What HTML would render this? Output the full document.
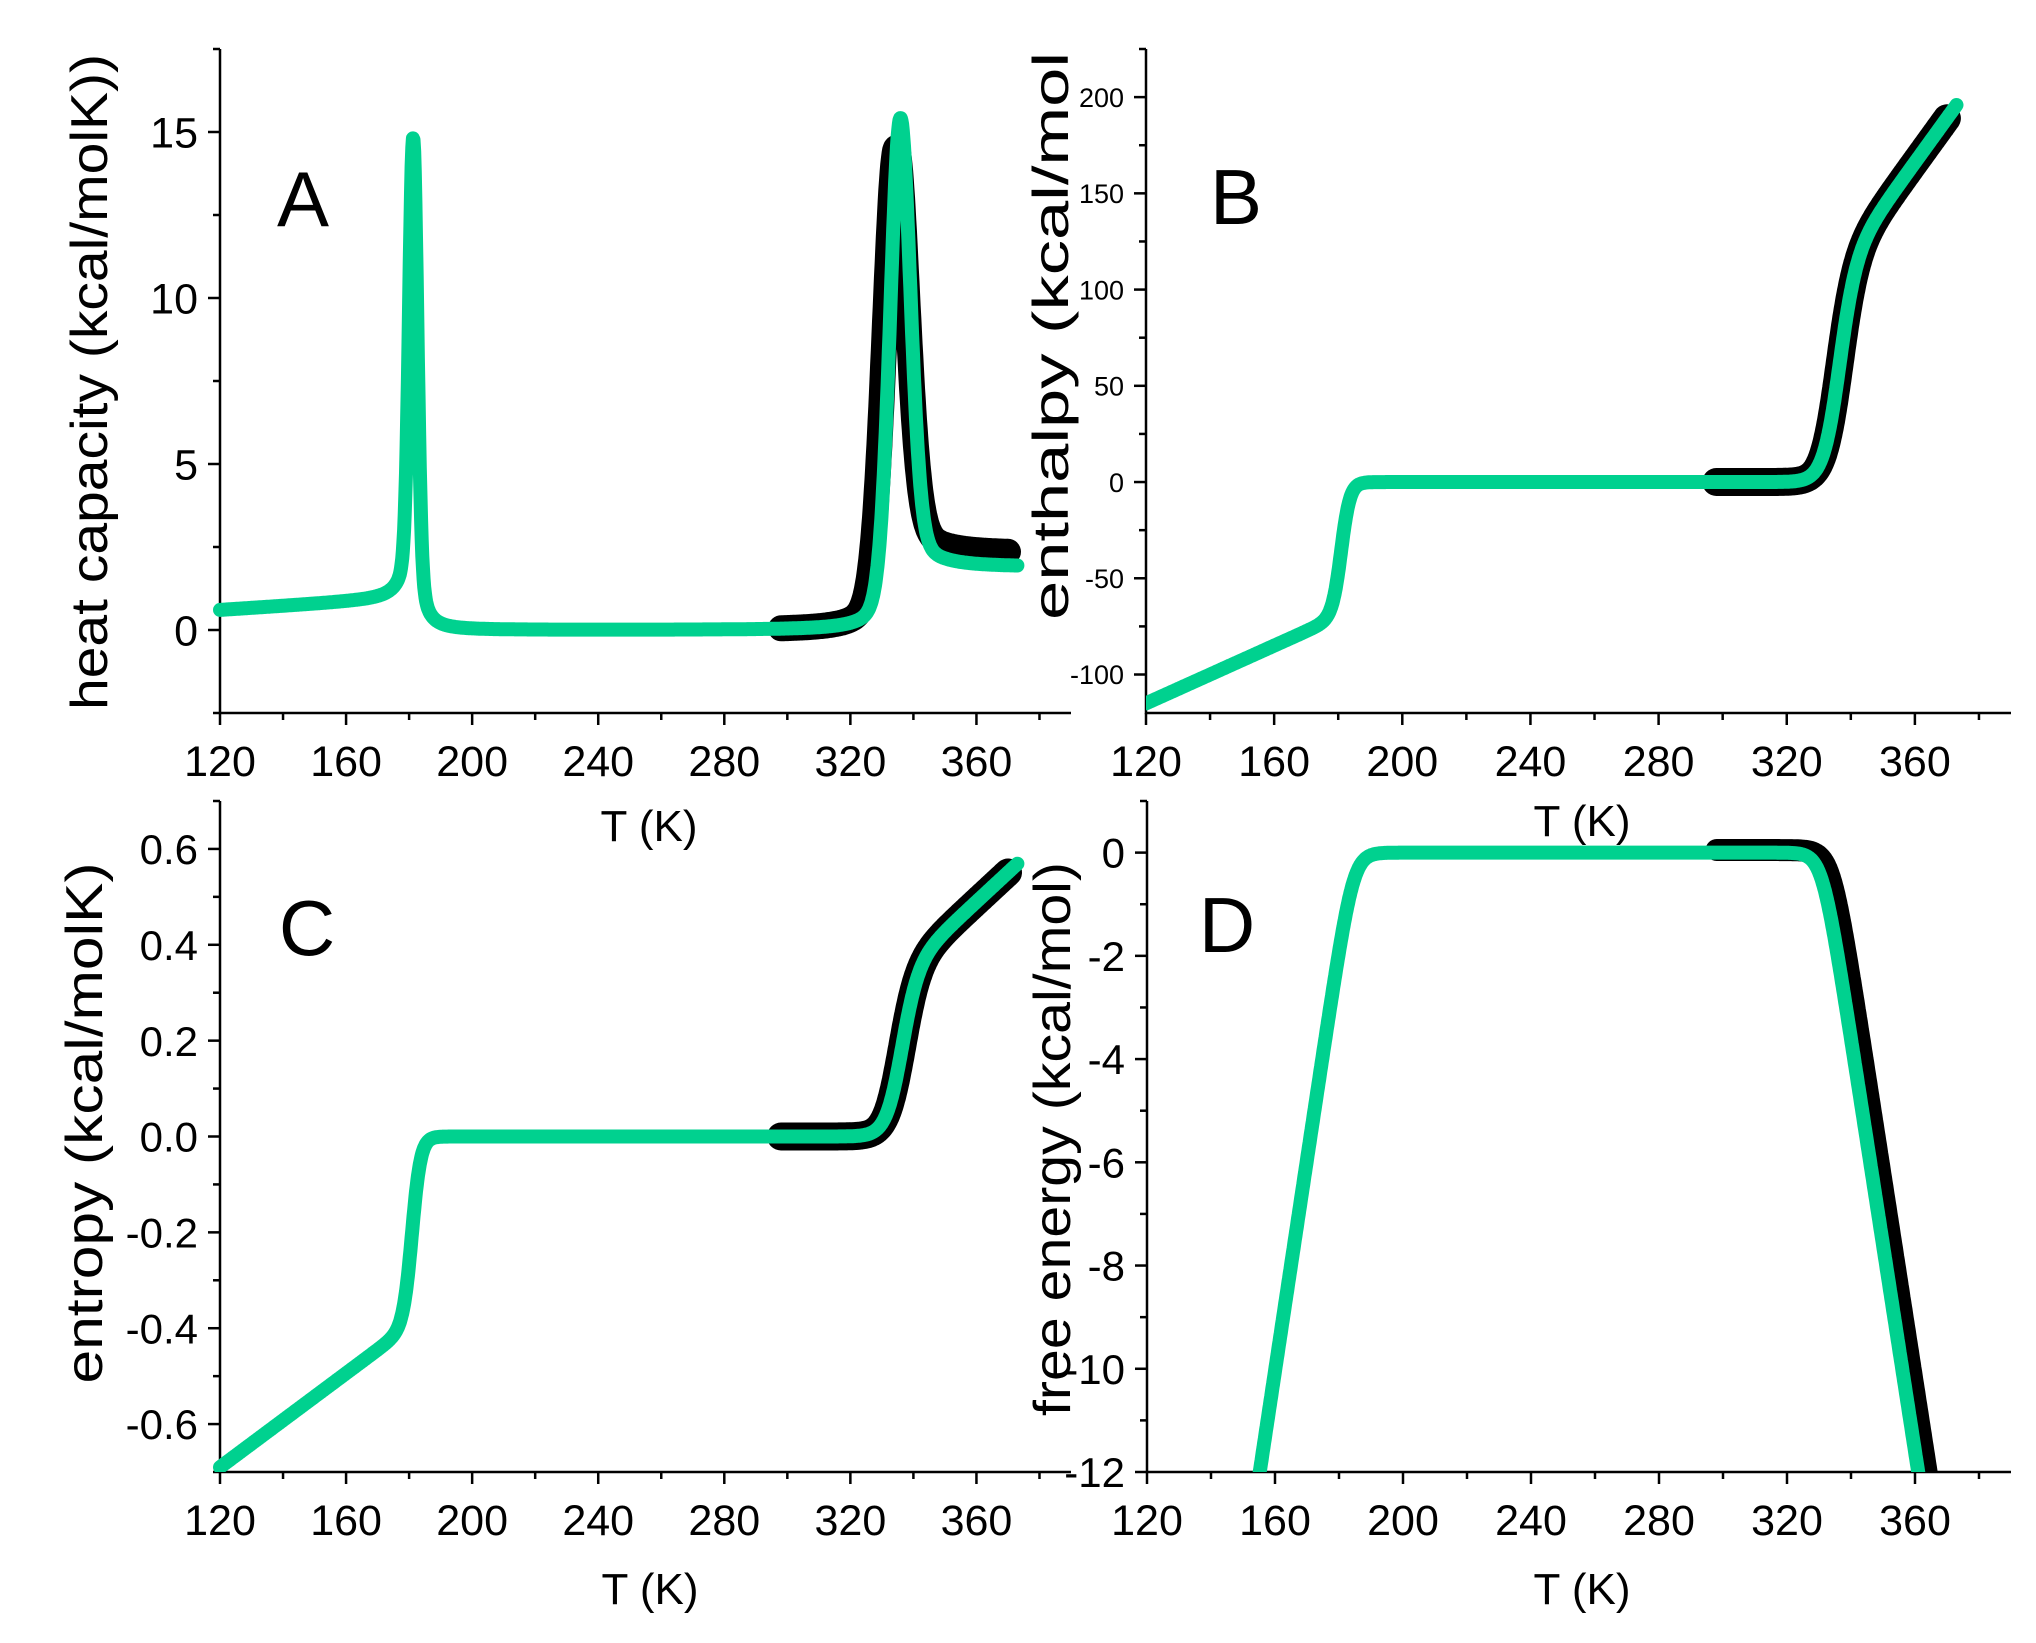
<!DOCTYPE html>
<html><head><meta charset="utf-8">
<style>
html,body{margin:0;padding:0;background:#fff;}
svg{display:block;font-family:"Liberation Sans",Arial,sans-serif;}
</style></head>
<body>
<svg id="s" width="2036" height="1643" viewBox="0 0 2036 1643" xmlns="http://www.w3.org/2000/svg">
<rect width="2036" height="1643" fill="#fff"/>
<defs>
<clipPath id="c0"><rect x="200" y="0" width="900" height="713"/></clipPath>
<clipPath id="c1"><rect x="1146" y="0" width="890" height="713"/></clipPath>
<clipPath id="c2"><rect x="200" y="760" width="900" height="712"/></clipPath>
<clipPath id="c3"><rect x="1147" y="760" width="889" height="712"/></clipPath>
</defs>
<g id="g"></g>
<text x="107" y="382" font-size="52" text-anchor="middle" textLength="656" lengthAdjust="spacingAndGlyphs" transform="rotate(-90 107 382)">heat capacity (kcal/molK))</text>
<text x="1068" y="336" font-size="50" text-anchor="middle" textLength="568" lengthAdjust="spacingAndGlyphs" transform="rotate(-90 1068 336)">enthalpy (kcal/mol</text>
<text x="102" y="1123" font-size="52" text-anchor="middle" textLength="521" lengthAdjust="spacingAndGlyphs" transform="rotate(-90 102 1123)">entropy (kcal/molK)</text>
<text x="1070" y="1139" font-size="52" text-anchor="middle" textLength="554" lengthAdjust="spacingAndGlyphs" transform="rotate(-90 1070 1139)">free energy (kcal/mol)</text>
<text x="649" y="841" font-size="44" text-anchor="middle">T (K)</text>
<text x="1582" y="836" font-size="44" text-anchor="middle">T (K)</text>
<text x="650" y="1604" font-size="44" text-anchor="middle">T (K)</text>
<text x="1582" y="1604" font-size="44" text-anchor="middle">T (K)</text>
<text x="303" y="226" font-size="78" text-anchor="middle">A</text>
<text x="1236" y="224" font-size="78" text-anchor="middle">B</text>
<text x="307" y="955" font-size="78" text-anchor="middle">C</text>
<text x="1227" y="952" font-size="78" text-anchor="middle">D</text>
</svg>
<script>
(function(){
var NS="http://www.w3.org/2000/svg",g=document.getElementById("g");
function el(t,a,txt,par){var e=document.createElementNS(NS,t);for(var k in a)e.setAttribute(k,a[k]);if(txt!=null)e.textContent=txt;(par||g).appendChild(e);return e;}
function sig(x){return 1/(1+Math.exp(-x));}
function sp(x){return x>30?x:Math.log(1+Math.exp(x));}
var P=[
 {L:220,R:1071,T:49,B:713,y0:-2.5,y1:17.5,yt:[0,5,10,15],ym:2.5,fs:43,ylab:function(v){return String(v);}},
 {L:1146,R:2011,T:49,B:713,y0:-120,y1:225,yt:[-100,-50,0,50,100,150,200],ym:25,fs:27,ylab:function(v){return String(v);}},
 {L:220,R:1071,T:801,B:1472,y0:-0.7,y1:0.7,yt:[-0.6,-0.4,-0.2,0,0.2,0.4,0.6],ym:0.1,fs:42,ylab:function(v){return v.toFixed(1);}},
 {L:1147,R:2011,T:801,B:1472,y0:-12,y1:1,yt:[-12,-10,-8,-6,-4,-2,0],ym:1,fs:42,ylab:function(v){return String(v);}}
];
function X(p,t){return p.L+(t-120)/(390-120)*(p.R-p.L);}
function Y(p,v){return p.B-(v-p.y0)/(p.y1-p.y0)*(p.B-p.T);}
P.forEach(function(p){
 el("path",{d:"M"+p.L+" "+p.T+"V"+p.B+"H"+p.R,stroke:"#000","stroke-width":2.5,fill:"none"});
 for(var t=120;t<=380;t+=20){var x=X(p,t),maj=(t%40==0);
  el("line",{x1:x,y1:p.B,x2:x,y2:p.B+(maj?12:7),stroke:"#000","stroke-width":2.5});
  if(maj&&t<=360)el("text",{x:x,y:p.B+63,"font-size":43,"text-anchor":"middle"},String(t));}
 var k0=Math.ceil(p.y0/p.ym-1e-6),k1=Math.floor(p.y1/p.ym+1e-6);
 for(var k=k0;k<=k1;k++){var vv=Math.round(k*p.ym*1000)/1000;var y=Y(p,vv);
  var maj=p.yt.some(function(a){return Math.abs(a-vv)<1e-6;});
  el("line",{x1:p.L,y1:y,x2:p.L-(maj?12:7),y2:y,stroke:"#000","stroke-width":2.5});
  if(maj)el("text",{x:p.L-22,y:y+p.fs*0.36,"font-size":p.fs,"text-anchor":"end"},p.ylab(vv));}
});
var G=[];P.forEach(function(p,i){G.push(el("g",{"clip-path":"url(#c"+i+")"}));});
function curve(i,f,a,b,col,w){var p=P[i];var d="";for(var t=a;t<=b+1e-9;t+=0.2){var y=Y(p,f(t));d+=(d?"L":"M")+X(p,t).toFixed(1)+" "+y.toFixed(1);}
 el("path",{d:d,stroke:col,"stroke-width":w,fill:"none","stroke-linejoin":"round","stroke-linecap":"round"},null,G[i]);}
var GR="#00d18f";
function cpG(t){var b1=(0.6+0.006*(t-120))*(1-sig((t-181)/1.2));var d1=t-181.3;var pk1=11*Math.exp(-d1*d1/(2*1.3*1.3))+3.4/(1+Math.pow(d1/2.2,2));
 var b2=1.9*sig((t-339)/2);var d2=t-335.8;var pk2=11.5*Math.exp(-d2*d2/(2*3.3*3.3))+3.6/(1+Math.pow(d2/4,2));return b1+pk1+b2+pk2;}
function cpB(t){var b2=2.3*sig((t-339)/2);var d2=t-334.5;var pk2=10.8*Math.exp(-d2*d2/(2*3.8*3.8))+3.5/(1+Math.pow(d2/4.5,2));return b2+pk2;}
curve(0,cpB,298,370,"#000",26);
curve(0,cpG,120,373,GR,14);
function HG(t){var L1=-115+0.75*(t-120);var L2=120+2.3*(t-340);return L1*(1-sig((t-181)/1.4))+L2*sig((t-336)/2.6);}
curve(1,HG,298,370,"#000",28);
curve(1,HG,120,373,GR,14);
function SG(t){var L1=-0.69+0.0049*(t-120);var L2=0.38+0.0061*(t-342);return L1*(1-sig((t-181)/1.4))+L2*sig((t-336)/2.6);}
curve(2,SG,298,370,"#000",28);
curve(2,SG,120,373,GR,14);
function GG(t){return -0.41*2*sp((184.5-t)/2)-0.4*2*sp((t-331)/2);}
function GB(t){return 0.05-0.4*2*sp((t-333.5)/2);}
curve(3,GB,298,370,"#000",22);
curve(3,GG,150,366,GR,14);
})();
</script>
</body></html>
